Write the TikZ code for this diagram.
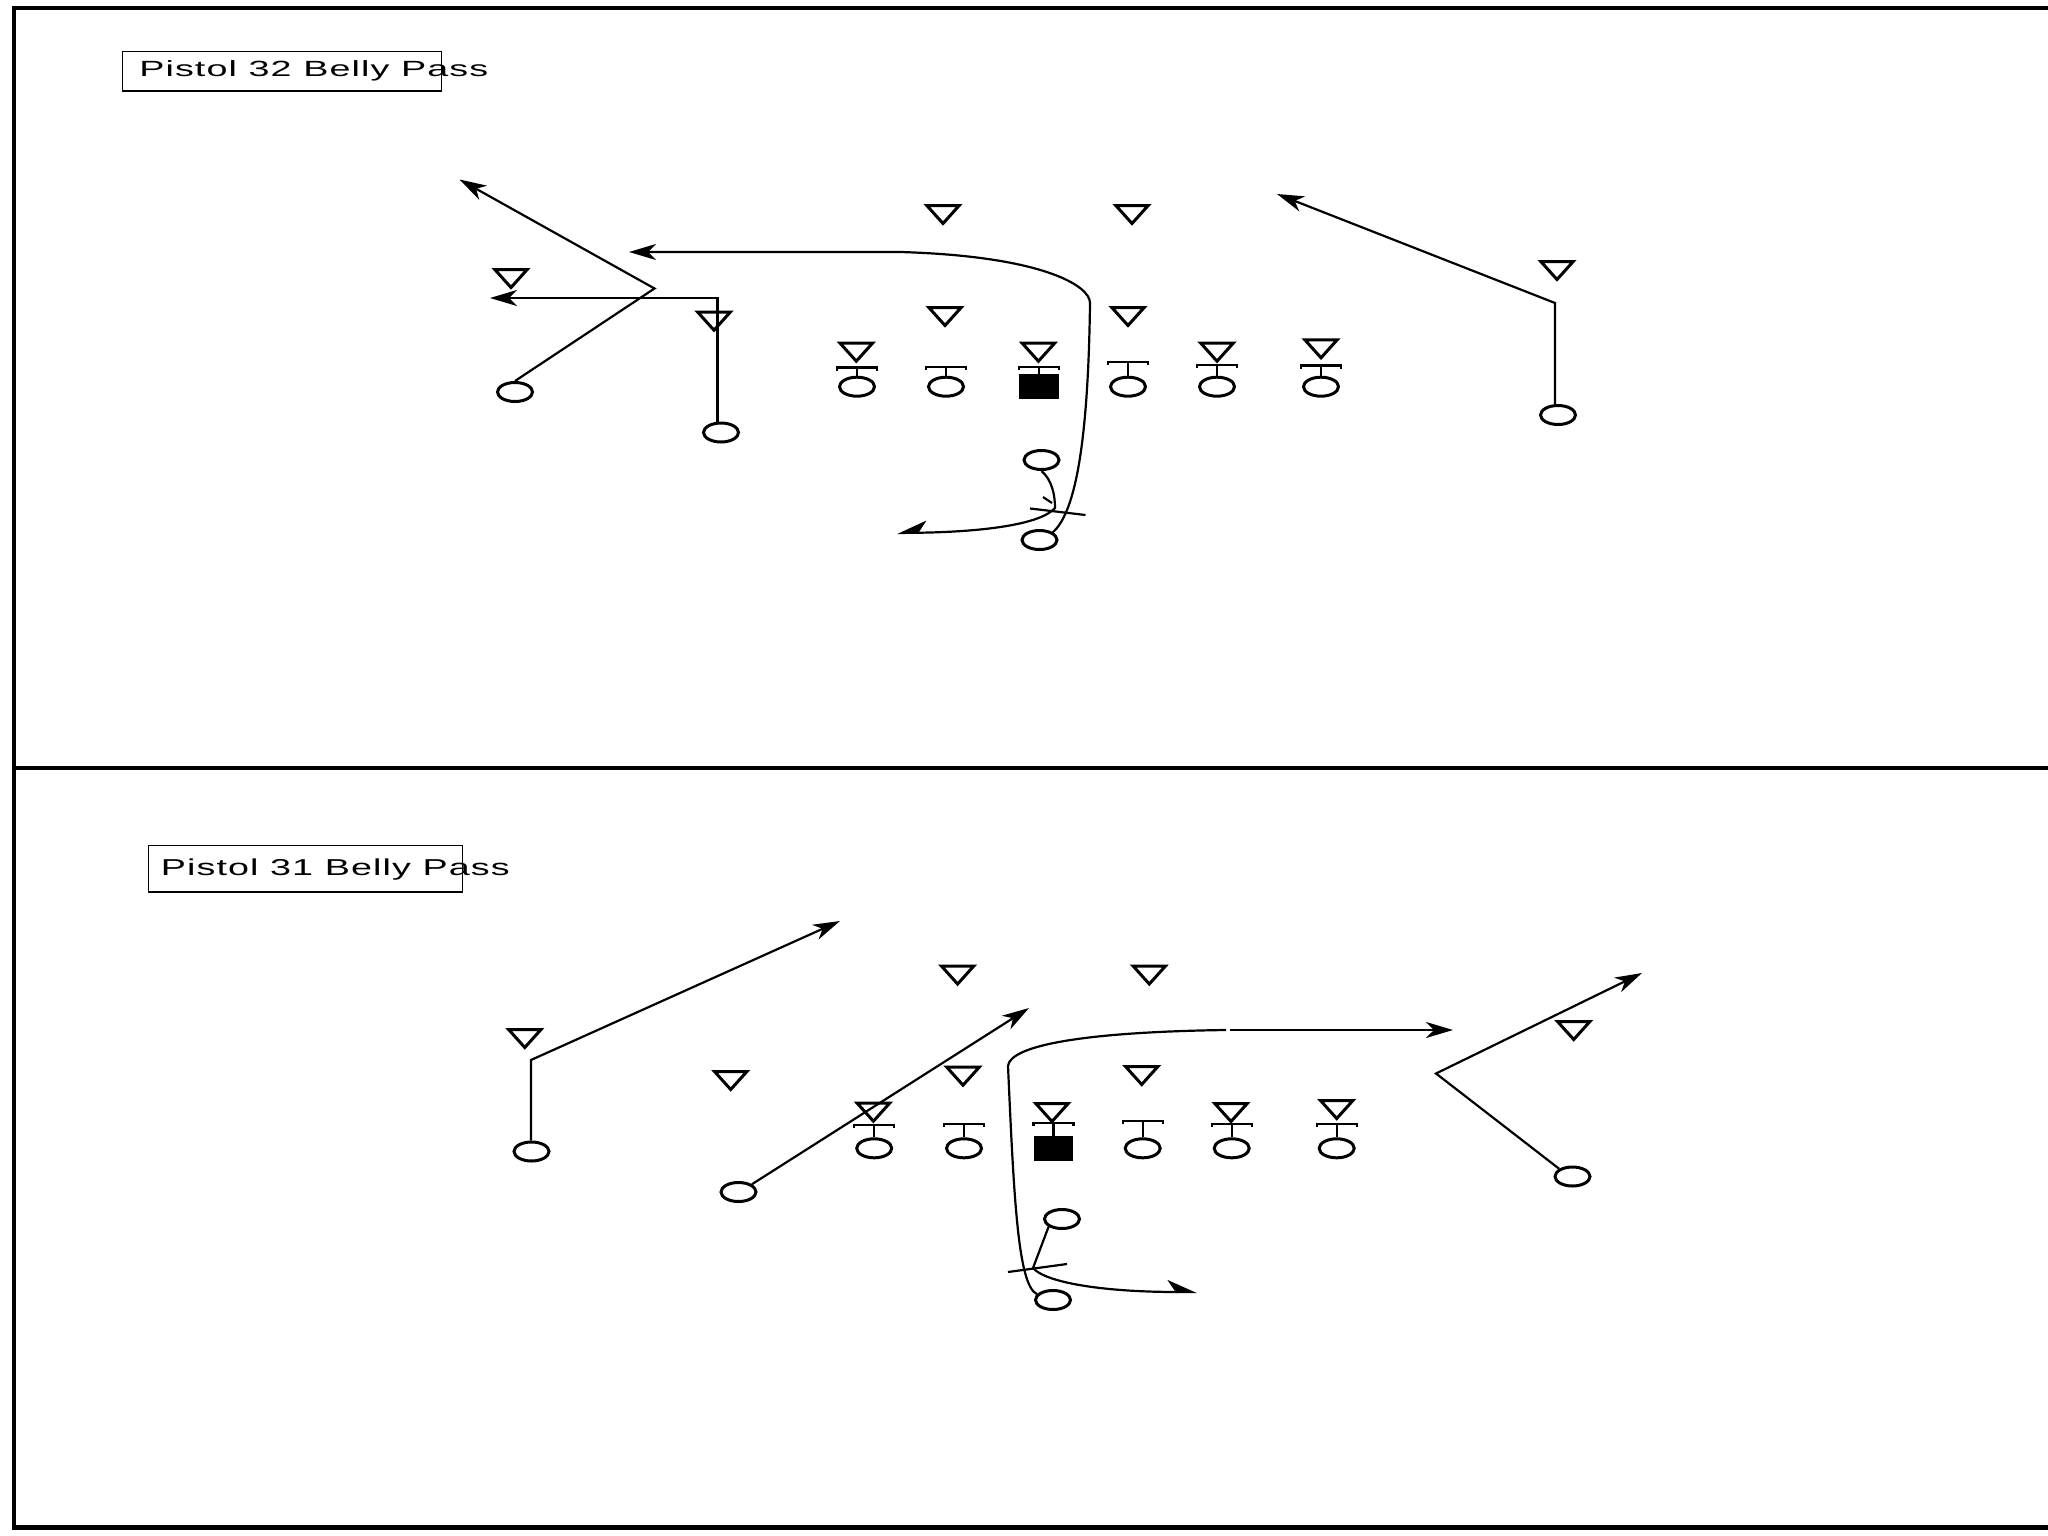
\documentclass[tikz,border=0pt]{standalone}
\usepackage{fontspec}
\setmainfont{Liberation Sans}
\usepackage{graphicx}
\usetikzlibrary{arrows.meta,calc,shapes.geometric}
\begin{document}
\begin{tikzpicture}[x=1pt,y=-1pt,
  framel/.style={line width=4.3pt},
  titlebox/.style={draw,line width=1.4pt,inner sep=0pt,outer sep=0pt,anchor=north west},
  titletext/.style={anchor=base west,inner sep=0pt,outer sep=0pt},
  player/.style={draw,ellipse,line width=3pt,minimum width=35pt,minimum height=19pt,inner sep=0pt},
  ctrbox/.style={fill=black,rectangle,minimum width=39.5pt,minimum height=24.5pt,inner sep=0pt,outer sep=0pt},
  barline/.style={line width=2.2pt},
  route/.style={line width=2.2pt},
  arr/.style={-{Stealth[length=27pt,width=16pt,inset=8pt]}},
  harp/.style={-{Stealth[harpoon,length=27pt,width=24pt,inset=8pt]}},
  harpsw/.style={-{Stealth[harpoon,swap,length=27pt,width=24pt,inset=8pt]}},
  defender/.pic={\draw[line width=3pt,line join=miter] (-16.2,0) -- (16.2,0) -- (0,18) -- cycle;}
]
\useasboundingbox (0,0) rectangle (2048,1536);
\fill[white] (0,0) rectangle (2048,1536);

% frame
\draw[framel] (2048,8) -- (14,8) -- (14,1527.5) -- (2048,1527.5);
\draw[framel] (14,768) -- (2048,768);

% ================= TOP: Pistol 32 Belly Pass =================
\node[titlebox,minimum width=318.5pt,minimum height=39.5pt] (box1) at (122.7,51.7) {};
\node[titletext] (title1) at (139.3,76.7)
  {\fontsize{22}{26}\selectfont\resizebox{349pt}{\height}{\addfontfeature{LetterSpace=3}Pistol 32 Belly Pass}};

% defenders
\foreach \x/\t in {943/204,1132/204,511/268,714/310.7,945/306,1128/306,1557/260,
                   856.3/341.7,1038.4/341.7,1217/341.7,1321/338.3}
  \pic at (\x,\t+1.5) {defender};

% offense
\node[player] (o1) at (857,386.7) {};
\node[player] (o2) at (946,386.7) {};
\node[ctrbox] (oc) at (1039,386.7) {};
\node[player] (o4) at (1128,386.7) {};
\node[player] (o5) at (1217,386.7) {};
\node[player] (o6) at (1321,386.7) {};
\node[player] (wr1) at (515,392) {};
\node[player] (wr2) at (721,432.5) {};
\node[player] (wr3) at (1558,415) {};
\node[player] (qb) at (1041.5,460) {};
\node[player] (rb) at (1039.5,540) {};

% blocking bars
\foreach \n/\s in {o1/8.2,o2/8.5,oc/7.2,o4/13.5,o5/10.8,o6/10.2}{
  \draw[barline] ($(\n.north)+(-20,-\s+3)$) -- ++(0,-3) -- ++(40,0) -- ++(0,3);
  \draw[barline] (\n.north) -- ++(0,-\s);
}

% routes
\coordinate (a1) at (654.5,288.5); \coordinate (a1t) at (459.5,179.5);
\draw[route,arr] (wr1.north) -- (a1) -- (a1t);
\coordinate (a2) at (717.5,298); \coordinate (a2t) at (490,298);
\draw[route,arr] (wr2.north -| a2) -- (a2) -- (a2t);
\coordinate (a3) at (1555,303); \coordinate (a3t) at (1277,194);
\draw[route,arr] (wr3.north -| a3) -- (a3) -- (a3t);
\coordinate (b0) at (1090,303); \coordinate (b1) at (900,252); \coordinate (bt) at (629,252);
\draw[route,arr] (rb.north east) .. controls (1072,515) and (1088,460) .. (b0)
   .. controls (1090,285) and (1040,256) .. (b1) -- (bt);
\coordinate (q1) at (1055,508); \coordinate (qt) at (897,533);
\draw[route,harpsw] (qb.south) .. controls (1052,480) and (1055,495) .. (q1)
   .. controls (1040,525) and (980,532) .. (qt);
\coordinate (k1) at (1043,497); \coordinate (k2) at (1052,503);
\draw[route] (k1) -- (k2);
\coordinate (x1) at (1030,508.5); \coordinate (x2) at (1085.5,515);
\draw[route] (x1) -- (x2);

% ================= BOTTOM: Pistol 31 Belly Pass =================
\node[titlebox,minimum width=313.6pt,minimum height=46.3pt] (box2) at (148.7,845.7) {};
\node[titletext] (title2) at (160.8,875.7)
  {\fontsize{23}{27}\selectfont\resizebox{349pt}{\height}{\addfontfeature{LetterSpace=3}Pistol 31 Belly Pass}};

\foreach \x/\t in {957.6/964.5,1149.3/964.5,524.8/1028,730.7/1070,963/1065.7,1141.7/1065,
                   1573.7/1020,873.4/1101.7,1052/1102,1231/1102,1336.7/1099}
  \pic at (\x,\t+1.5) {defender};

\node[player] (p1) at (874.2,1148.3) {};
\node[player] (p2) at (964,1148.3) {};
\node[ctrbox] (pc) at (1053.5,1148.3) {};
\node[player] (p4) at (1142.7,1148.3) {};
\node[player] (p5) at (1231.7,1148.3) {};
\node[player] (p6) at (1336.7,1148.3) {};
\node[player] (bw1) at (531.5,1151.5) {};
\node[player] (bw2) at (738.5,1192) {};
\node[player] (bw3) at (1572.5,1176.5) {};
\node[player] (bqb) at (1062,1219) {};
\node[player] (brb) at (1053,1300) {};

\foreach \n/\s in {p1/12.3,p2/13,pc/12.7,p4/16.3,p5/13,p6/13}{
  \draw[barline] ($(\n.north)+(-20,-\s+3)$) -- ++(0,-3) -- ++(40,0) -- ++(0,3);
  \draw[barline] (\n.north) -- ++(0,-\s);
}

\coordinate (c1) at (531,1060); \coordinate (c1t) at (840,921);
\draw[route,arr] (bw1.north -| c1) -- (c1) -- (c1t);
\coordinate (c2t) at (1029,1008);
\draw[route,arr] (bw2.north east) -- (c2t);
\coordinate (c3) at (1436,1073.5); \coordinate (c3t) at (1642,973);
\draw[route,arr] (bw3.north west) -- (c3) -- (c3t);
\coordinate (d0) at (1008,1066); \coordinate (d1) at (1226,1030);
\coordinate (d2) at (1230,1030); \coordinate (dt) at (1453,1030);
\draw[route] (brb.160) .. controls (1018,1285) and (1014,1200) .. (d0)
   .. controls (1010,1046) and (1080,1032) .. (d1);
\draw[route,arr] (d2) -- (dt);
\coordinate (e1) at (1033,1268); \coordinate (et) at (1197,1292);
\draw[route,harp] (bqb.south west) -- (e1) .. controls (1045,1282) and (1100,1292) .. (et);
\coordinate (y1) at (1008,1272); \coordinate (y2) at (1067,1264);
\draw[route] (y1) -- (y2);
\end{tikzpicture}
\end{document}
